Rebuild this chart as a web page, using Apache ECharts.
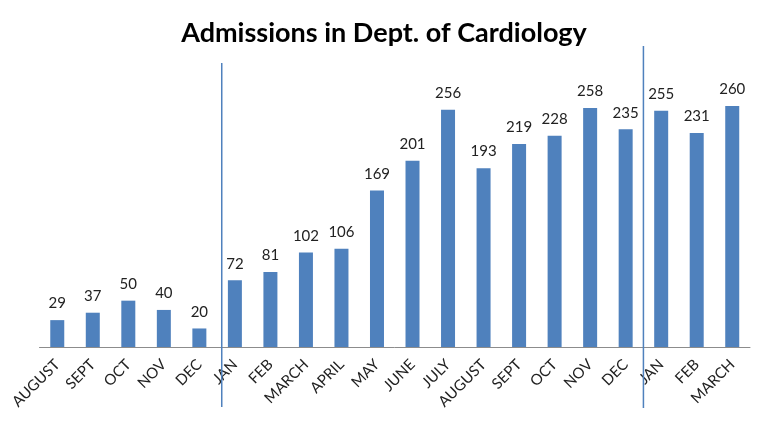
<!DOCTYPE html>
<html>
<head>
<meta charset="utf-8">
<script src="https://cdn.jsdelivr.net/npm/echarts@6/dist/echarts.min.js"></script>
<style>html,body{margin:0;padding:0;background:#fff}#c{width:768px;height:422px}</style>
</head>
<body>
<div id="c"></div>
<script>
const categories = ['AUGUST','SEPT','OCT','NOV','DEC','JAN','FEB','MARCH','APRIL','MAY','JUNE','JULY','AUGUST','SEPT','OCT','NOV','DEC','JAN','FEB','MARCH'];
const admissions = [29,37,50,40,20,72,81,102,106,169,201,256,193,219,228,258,235,255,231,260];
const yearBreaks = [4.63, 16.5];
const titleText = 'Admissions in Dept. of Cardiology';

const chart = echarts.init(document.getElementById('c'), null, {renderer: 'canvas'});
chart.setOption({
  animation: false,
  backgroundColor: '#fff',
  title: {
    text: titleText, left: 'center', top: 15,
    textStyle: {fontFamily: 'Lato', fontWeight: 'bold', fontSize: 27, color: '#000'}
  },
  grid: {left: 39.5, right: 18, top: 69, bottom: 75},
  xAxis: {
    type: 'category', data: categories,
    axisLine: {lineStyle: {color: '#8c8c8c', width: 1}},
    axisTick: {show: false},
    axisLabel: {rotate: 45, interval: 0, fontFamily: 'Lato', fontSize: 15, color: '#222', margin: 15}
  },
  yAxis: {type: 'value', min: 0, max: 300, show: false, splitLine: {show: false}},
  series: [{
    type: 'bar', data: admissions, barWidth: 14,
    itemStyle: {color: '#4F81BD'},
    label: {show: true, position: 'top', distance: 9, fontFamily: 'Lato', fontSize: 15, color: '#222'}
  }]
});

const tops = [63, 46];
const bottoms = [407, 408];
const graphics = yearBreaks.map((b, i) => {
  const lo = Math.floor(b);
  const x0 = chart.convertToPixel({xAxisIndex: 0}, lo);
  const x1 = chart.convertToPixel({xAxisIndex: 0}, lo + 1);
  const x = x0 + (b - lo) * (x1 - x0);
  return {type: 'line', shape: {x1: x, y1: tops[i], x2: x, y2: bottoms[i]},
          style: {stroke: '#4F81BD', lineWidth: 1.5}, z: 10};
});
chart.setOption({graphic: graphics});
</script>
</body>
</html>
